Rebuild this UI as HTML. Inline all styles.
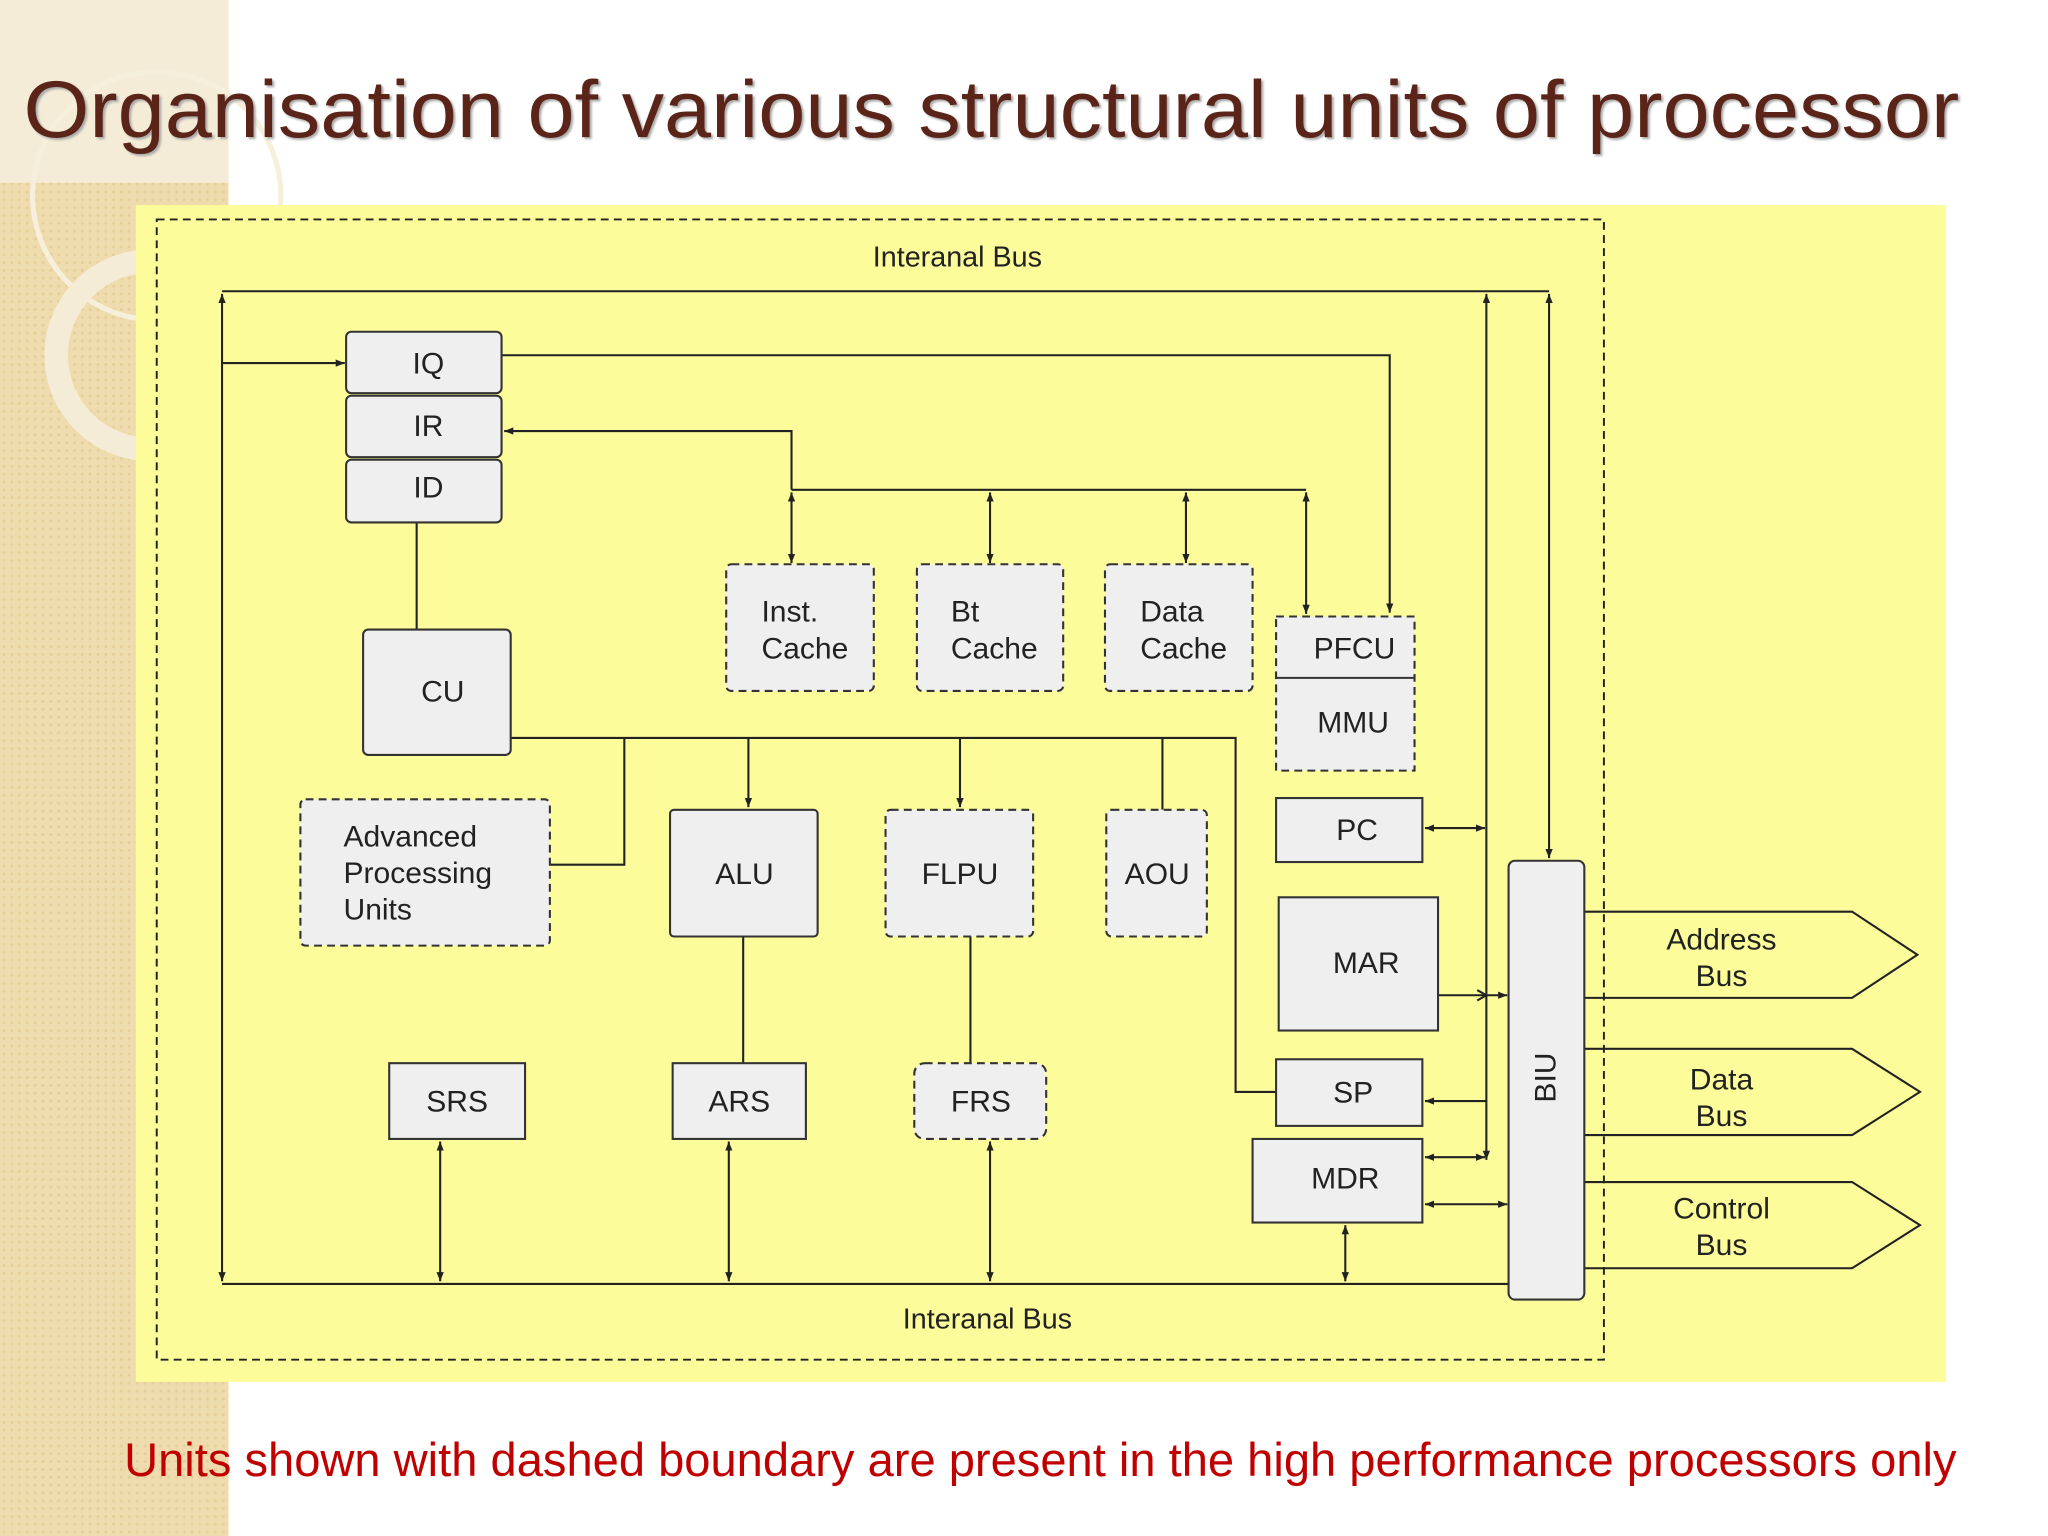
<!DOCTYPE html>
<html><head><meta charset="utf-8"><style>
html,body{margin:0;padding:0;background:#fff;}
svg{display:block;}
</style></head><body>
<svg width="2048" height="1536" viewBox="0 0 1568 1176" preserveAspectRatio="none" xmlns="http://www.w3.org/2000/svg">
<defs>
<marker id="a" viewBox="0 0 10 10" refX="10" refY="5" markerWidth="7" markerHeight="7" orient="auto-start-reverse" markerUnits="userSpaceOnUse"><path d="M0,1 L10,5 L0,9 z" fill="#222"/></marker>
<pattern id="dots" width="6" height="6" patternUnits="userSpaceOnUse"><rect width="6" height="6" fill="#efdcae"/><circle cx="3" cy="3" r="1.2" fill="#e6cf9a"/></pattern>
</defs>
<rect x="0" y="0" width="175" height="1176" fill="url(#dots)"/>
<rect x="0" y="0" width="175" height="140" fill="#f4ecd6"/>
<circle cx="120" cy="150" r="95" fill="none" stroke="#f6efdc" stroke-width="4"/>
<circle cx="115" cy="272" r="72" fill="none" stroke="#f4ecd6" stroke-width="18"/>
<rect x="104" y="157" width="1386" height="901" fill="#fdfc9a"/>
<rect x="120" y="168" width="1108" height="873" fill="none" stroke="#222" stroke-width="1.5" stroke-dasharray="6,4"/>

<text x="18" y="105" font-family="Liberation Sans, sans-serif" font-size="62" fill="#5a2418" textLength="1482" lengthAdjust="spacingAndGlyphs" style="text-shadow:2px 2px 2px #aaa">Organisation of various structural units of processor</text>
<text x="95" y="1130" font-family="Liberation Sans, sans-serif" font-size="36" fill="#c00000" textLength="1403" lengthAdjust="spacingAndGlyphs">Units shown with dashed boundary are present in the high performance processors only</text>

<g font-family="Liberation Sans, sans-serif" font-size="22" fill="#222" text-anchor="middle">
<text x="733" y="204">Interanal Bus</text>
<text x="756" y="1017">Interanal Bus</text>
</g>

<g stroke="#222" stroke-width="1.6" fill="none">
<line x1="170" y1="223" x2="1186" y2="223"/>
<line x1="170" y1="983" x2="1155" y2="983"/>
<line x1="170" y1="225" x2="170" y2="981" marker-start="url(#a)" marker-end="url(#a)"/>
<line x1="170" y1="278" x2="264" y2="278" marker-end="url(#a)"/>
<polyline points="384,272 1064,272 1064,469" marker-end="url(#a)"/>
<polyline points="606,375 606,330 386,330" marker-end="url(#a)"/>
<line x1="606" y1="375" x2="1000" y2="375"/>
<line x1="606" y1="377" x2="606" y2="431" marker-start="url(#a)" marker-end="url(#a)"/>
<line x1="758" y1="377" x2="758" y2="431" marker-start="url(#a)" marker-end="url(#a)"/>
<line x1="908" y1="377" x2="908" y2="431" marker-start="url(#a)" marker-end="url(#a)"/>
<line x1="1000" y1="377" x2="1000" y2="470" marker-start="url(#a)" marker-end="url(#a)"/>
<line x1="319" y1="400" x2="319" y2="482"/>
<polyline points="391,565 946,565 946,836 977,836"/>
<polyline points="478,565 478,662 421,662"/>
<line x1="573" y1="565" x2="573" y2="618" marker-end="url(#a)"/>
<line x1="735" y1="565" x2="735" y2="618" marker-end="url(#a)"/>
<line x1="890" y1="565" x2="890" y2="620"/>
<line x1="569" y1="717" x2="569" y2="814"/>
<line x1="743" y1="717" x2="743" y2="814"/>
<line x1="337" y1="874" x2="337" y2="981" marker-start="url(#a)" marker-end="url(#a)"/>
<line x1="558" y1="874" x2="558" y2="981" marker-start="url(#a)" marker-end="url(#a)"/>
<line x1="758" y1="874" x2="758" y2="981" marker-start="url(#a)" marker-end="url(#a)"/>
<line x1="1138" y1="225" x2="1138" y2="888" marker-start="url(#a)" marker-end="url(#a)"/>
<line x1="1186" y1="225" x2="1186" y2="657" marker-start="url(#a)" marker-end="url(#a)"/>
<line x1="1091" y1="634" x2="1137" y2="634" marker-start="url(#a)" marker-end="url(#a)"/>
<line x1="1101" y1="762" x2="1154" y2="762" marker-end="url(#a)"/>
<path d="M1131,758 L1138,762 L1131,766"/>
<line x1="1138" y1="843" x2="1091" y2="843" marker-end="url(#a)"/>
<line x1="1091" y1="886" x2="1137" y2="886" marker-start="url(#a)" marker-end="url(#a)"/>
<line x1="1091" y1="922" x2="1154" y2="922" marker-start="url(#a)" marker-end="url(#a)"/>
<line x1="1030" y1="938" x2="1030" y2="981" marker-start="url(#a)" marker-end="url(#a)"/>
<polyline points="1213,698 1418,698 1468,731 1418,764 1213,764"/>
<polyline points="1213,803 1418,803 1470,836 1418,869 1213,869"/>
<polyline points="1213,905 1418,905 1470,938 1418,971 1213,971"/>
</g>

<g stroke="#333" stroke-width="1.6" fill="#efefef">
<rect x="265" y="254" width="119" height="47" rx="4"/>
<rect x="265" y="303" width="119" height="47" rx="4"/>
<rect x="265" y="352" width="119" height="48" rx="4"/>
<rect x="278" y="482" width="113" height="96" rx="4"/>
<rect x="513" y="620" width="113" height="97" rx="3"/>
<rect x="298" y="814" width="104" height="58"/>
<rect x="515" y="814" width="102" height="58"/>
<rect x="977" y="611" width="112" height="49"/>
<rect x="979" y="687" width="122" height="102"/>
<rect x="977" y="811" width="112" height="51"/>
<rect x="959" y="872" width="130" height="64"/>
<rect x="1155" y="659" width="58" height="336" rx="5"/>
</g>
<g stroke="#333" stroke-width="1.6" fill="#efefef" stroke-dasharray="6,4">
<rect x="556" y="432" width="113" height="97" rx="4"/>
<rect x="702" y="432" width="112" height="97" rx="4"/>
<rect x="846" y="432" width="113" height="97" rx="4"/>
<rect x="977" y="472" width="106" height="118"/>
<rect x="230" y="612" width="191" height="112" rx="4"/>
<rect x="678" y="620" width="113" height="97" rx="4"/>
<rect x="847" y="620" width="77" height="97" rx="4"/>
<rect x="700" y="814" width="101" height="58" rx="8"/>
</g>
<line x1="977" y1="519" x2="1083" y2="519" stroke="#333" stroke-width="1.6"/>

<g font-family="Liberation Sans, sans-serif" font-size="23" fill="#222" text-anchor="middle">
<text x="328" y="286">IQ</text>
<text x="328" y="334">IR</text>
<text x="328" y="381">ID</text>
<text x="339" y="537">CU</text>
<text x="570" y="677">ALU</text>
<text x="735" y="677">FLPU</text>
<text x="886" y="677">AOU</text>
<text x="350" y="851">SRS</text>
<text x="566" y="851">ARS</text>
<text x="751" y="851">FRS</text>
<text x="1039" y="643">PC</text>
<text x="1046" y="745">MAR</text>
<text x="1036" y="844">SP</text>
<text x="1030" y="910">MDR</text>
<text x="1037" y="504">PFCU</text>
<text x="1036" y="561">MMU</text>
<text x="1318" y="727">Address</text>
<text x="1318" y="755">Bus</text>
<text x="1318" y="834">Data</text>
<text x="1318" y="862">Bus</text>
<text x="1318" y="933">Control</text>
<text x="1318" y="961">Bus</text>
<text transform="translate(1191,825) rotate(-90)">BIU</text>
</g>
<g font-family="Liberation Sans, sans-serif" font-size="23" fill="#222">
<text x="583" y="476">Inst.</text><text x="583" y="504">Cache</text>
<text x="728" y="476">Bt</text><text x="728" y="504">Cache</text>
<text x="873" y="476">Data</text><text x="873" y="504">Cache</text>
<text x="263" y="648">Advanced</text><text x="263" y="676">Processing</text><text x="263" y="704">Units</text>
</g>
</svg>
</body></html>
